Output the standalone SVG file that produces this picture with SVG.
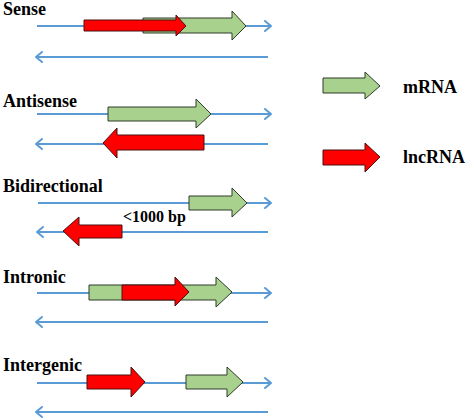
<svg xmlns="http://www.w3.org/2000/svg" width="474" height="420" viewBox="0 0 474 420">
<defs>
<style>
.ln{stroke:#5b9bd5;stroke-width:2;fill:none}
.hd{stroke:#5b9bd5;stroke-width:2;fill:none;stroke-linecap:round;stroke-linejoin:round}
.g{fill:#a9d18e;stroke:#2f3a2a;stroke-width:1}
.r{fill:#ff0000;stroke:#4a1010;stroke-width:1}
.lbl{font-weight:bold;font-size:18px;fill:#000}
.sm{font-size:16px}
</style>
</defs>
<rect width="474" height="420" fill="#fff"/>
<g id="connectors">
<line class="ln" x1="37" y1="26" x2="271" y2="26"/><polyline class="hd" points="265,21 271,26 265,31"/>
<line class="ln" x1="37" y1="57" x2="268" y2="57"/><polyline class="hd" points="42,52 36,57 42,62"/>
<line class="ln" x1="37" y1="114" x2="271" y2="114"/><polyline class="hd" points="265,109 271,114 265,119"/>
<line class="ln" x1="37" y1="144" x2="268" y2="144"/><polyline class="hd" points="42,139 36,144 42,149"/>
<line class="ln" x1="38" y1="203" x2="271" y2="203"/><polyline class="hd" points="265,198 271,203 265,208"/>
<line class="ln" x1="38" y1="232" x2="268" y2="232"/><polyline class="hd" points="43,227 37,232 43,237"/>
<line class="ln" x1="37" y1="293" x2="271" y2="293"/><polyline class="hd" points="265,288 271,293 265,298"/>
<line class="ln" x1="37" y1="322" x2="268" y2="322"/><polyline class="hd" points="42,317 36,322 42,327"/>
<line class="ln" x1="37" y1="383" x2="271" y2="383"/><polyline class="hd" points="265,378 271,383 265,388"/>
<line class="ln" x1="37" y1="412" x2="268" y2="412"/><polyline class="hd" points="42,407 36,412 42,417"/>
</g>
<g id="sense">
<text class="lbl" font-family="'Liberation Serif', 'Times New Roman', 'DejaVu Serif', serif" x="3" y="15">Sense</text>
<polygon class="g" points="143,18 232,18 232,11 246,26 232,40 232,33 143,33"/>
<polygon class="r" points="84,20 176,20 176,15 186,26 176,36 176,31 84,31"/>
</g>
<g id="antisense">
<text class="lbl" font-family="'Liberation Serif', 'Times New Roman', 'DejaVu Serif', serif" x="3" y="107">Antisense</text>
<polygon class="g" points="108,107 196,107 196,99 211,114 196,128 196,121 108,121"/>
<polygon class="r" points="204,135 117,135 117,128 103,143 117,158 117,150 204,150"/>
</g>
<g id="bidirectional">
<text class="lbl" font-family="'Liberation Serif', 'Times New Roman', 'DejaVu Serif', serif" x="3" y="192">Bidirectional</text>
<polygon class="g" points="189,196 232,196 232,188 247,203 232,217 232,210 189,210"/>
<polygon class="r" points="122,225 79,225 79,217 63,231 79,246 79,238 122,238"/>
<text class="lbl sm" font-family="'Liberation Serif', 'Times New Roman', 'DejaVu Serif', serif" x="123" y="222">&lt;1000 bp</text>
</g>
<g id="intronic">
<text class="lbl" font-family="'Liberation Serif', 'Times New Roman', 'DejaVu Serif', serif" x="3" y="283">Intronic</text>
<polygon class="g" points="89,285 216,285 216,277 232,292 216,307 216,300 89,300"/>
<polygon class="r" points="122,285 175,285 175,277 189,292 175,306 175,300 122,300"/>
</g>
<g id="intergenic">
<text class="lbl" font-family="'Liberation Serif', 'Times New Roman', 'DejaVu Serif', serif" x="3" y="371">Intergenic</text>
<polygon class="r" points="87,375 131,375 131,367 145,382 131,397 131,389 87,389"/>
<polygon class="g" points="186,375 227,375 227,367 243,382 227,397 227,389 186,389"/>
</g>
<g id="legend-mrna">
<polygon class="g" points="323,78 365,78 365,72 380,86 365,99 365,93 323,93"/>
<text class="lbl" font-family="'Liberation Serif', 'Times New Roman', 'DejaVu Serif', serif" x="403" y="93">mRNA</text>
</g>
<g id="legend-lncrna">
<polygon class="r" points="323,150 365,150 365,143 380,157 365,172 365,165 323,165"/>
<text class="lbl" font-family="'Liberation Serif', 'Times New Roman', 'DejaVu Serif', serif" x="403" y="163">lncRNA</text>
</g>
</svg>
